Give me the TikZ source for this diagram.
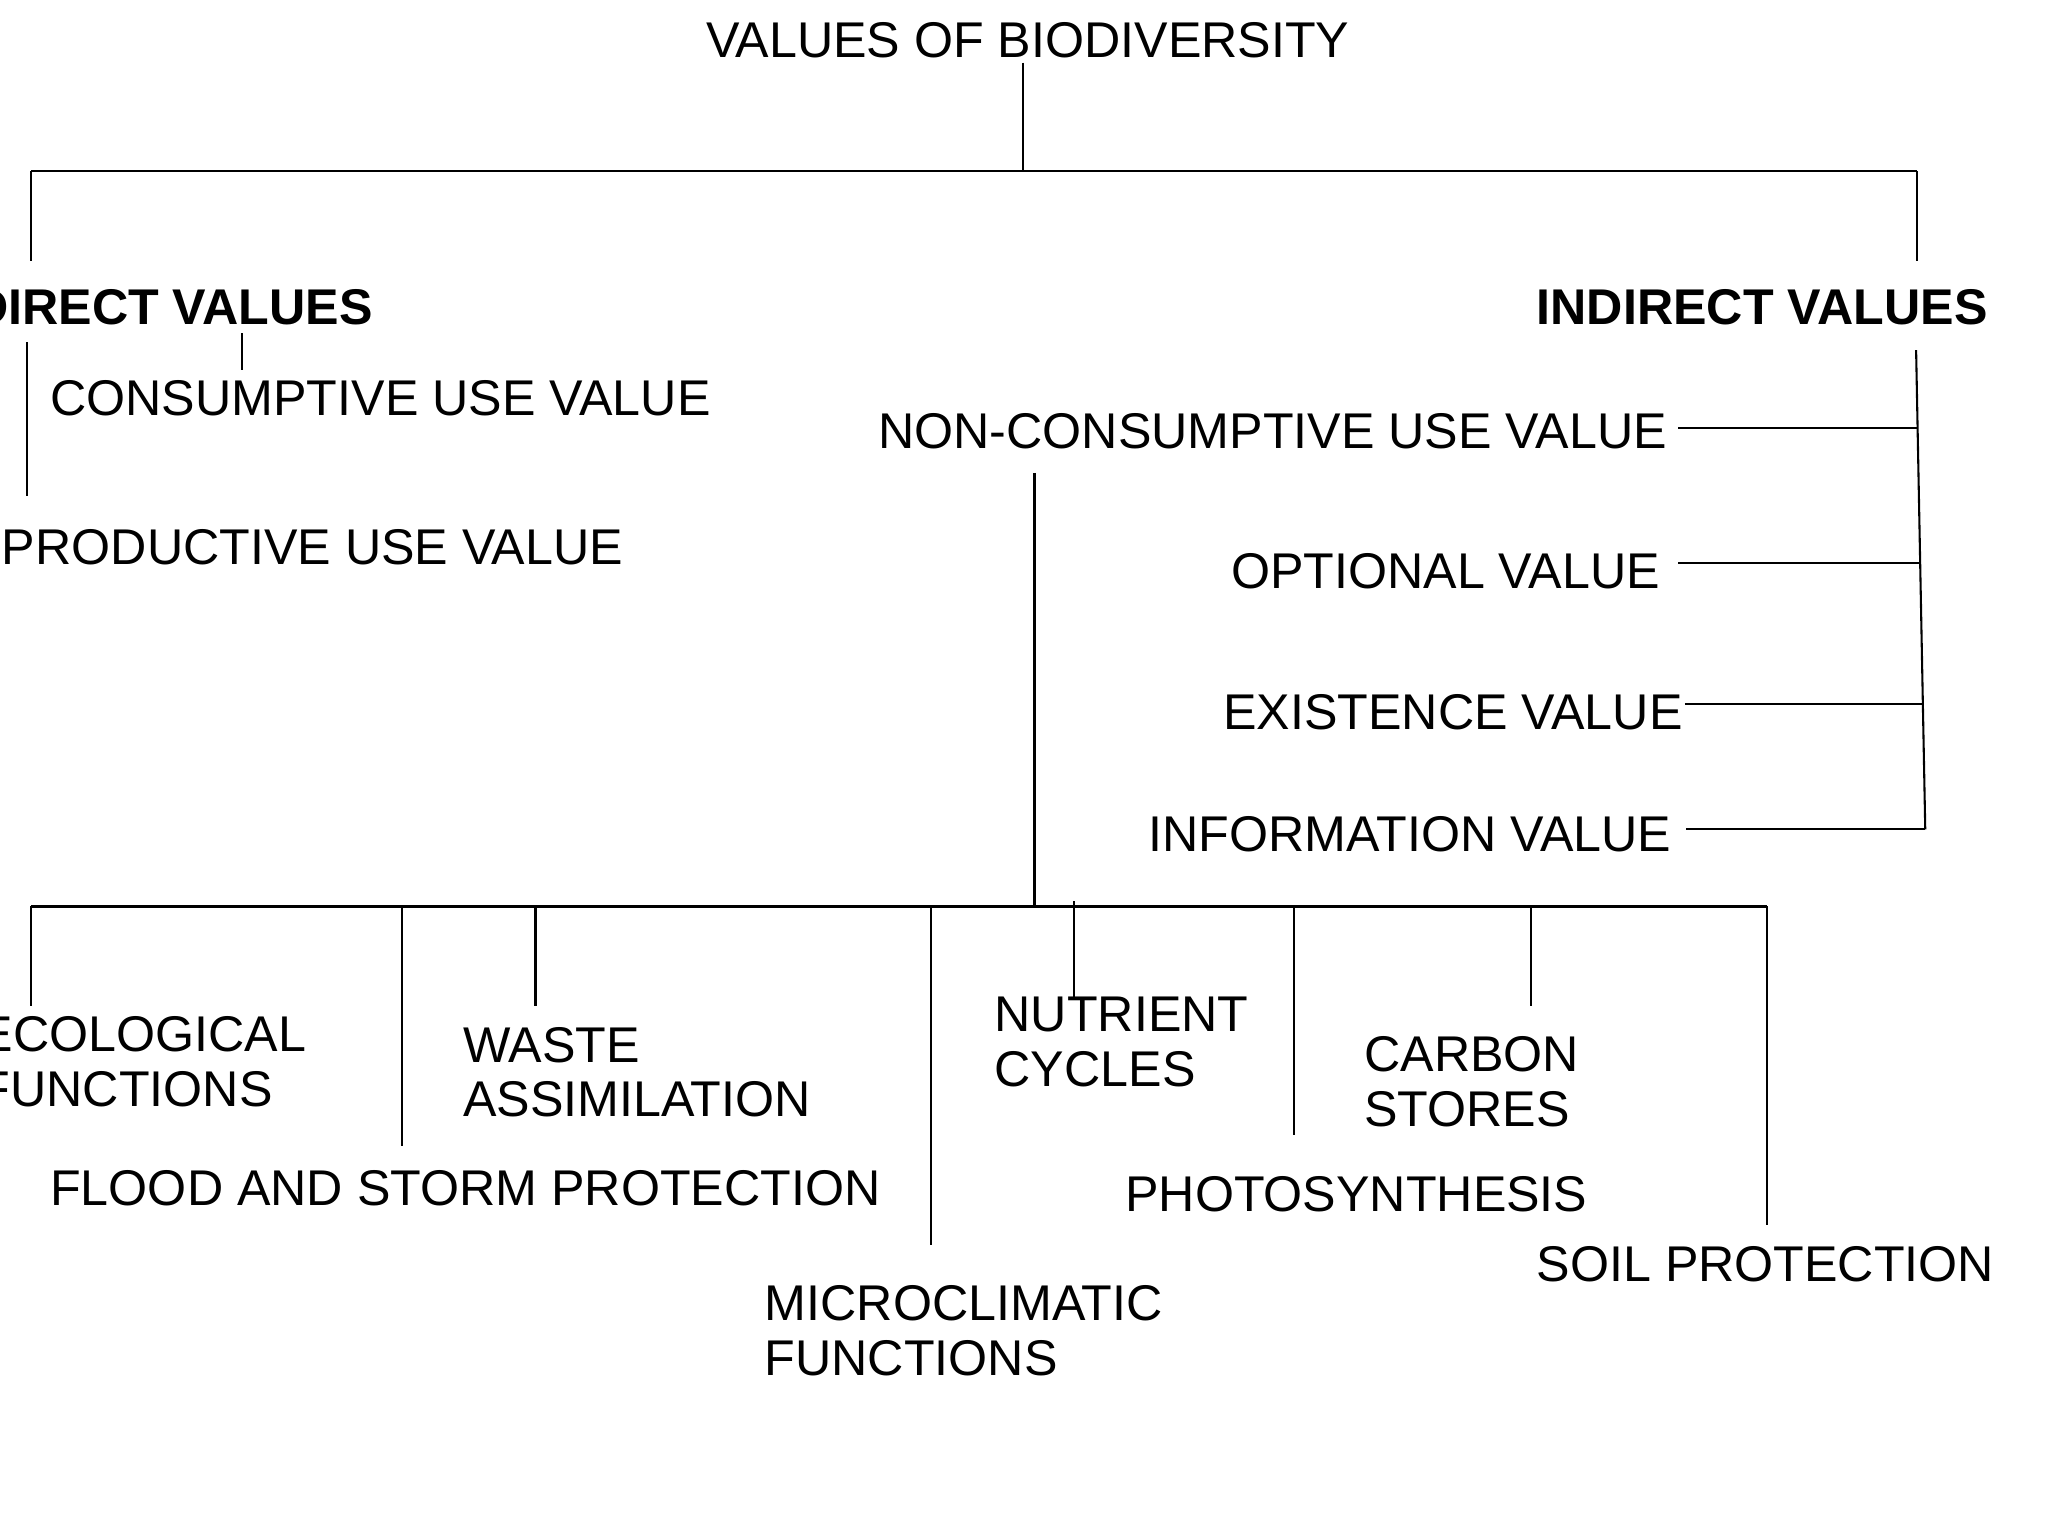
\documentclass[tikz,border=0pt]{standalone}
\usepackage{fontspec}
\setmainfont{Liberation Sans}
\usetikzlibrary{positioning}

\begin{document}
\begin{tikzpicture}[x=0.013256cm,y=-0.013256cm,
  lbl/.style={inner sep=0pt,anchor=west,align=left,font=\fontsize{14.5}{15.8}\selectfont},
  hd/.style={lbl,font=\fontsize{14.5}{15.8}\selectfont\bfseries},
  br/.style={line width=0.6pt}]
\useasboundingbox (0,0) rectangle (1568,1176);

% labels
\node[lbl] (bio)   at (540,31)  {VALUES OF BIODIVERSITY};
\node[hd,anchor=east] (dir) at (286,235) {DIRECT VALUES};
\node[hd]  (indir) at (1176,235) {INDIRECT VALUES};
\node[lbl] (cons)  at (38,305)  {CONSUMPTIVE USE VALUE};
\node[lbl] (prod)  at (1,419)   {PRODUCTIVE USE VALUE};
\node[lbl] (noncons) at (672,330) {NON-CONSUMPTIVE USE VALUE};
\node[lbl] (opt)   at (942,437) {OPTIONAL VALUE};
\node[lbl] (exist) at (936,545) {EXISTENCE VALUE};
\node[lbl] (info)  at (879,639) {INFORMATION VALUE};
\node[lbl] (eco)   at (-16,813) {ECOLOGICAL\\FUNCTIONS};
\node[lbl] (waste) at (354,821) {WASTE\\ASSIMILATION};
\node[lbl] (flood) at (38,910)  {FLOOD AND STORM PROTECTION};
\node[lbl] (nutr)  at (761,798) {NUTRIENT\\CYCLES};
\node[lbl] (carb)  at (1044,828) {CARBON\\STORES};
\node[lbl] (photo) at (861,914) {PHOTOSYNTHESIS};
\node[lbl] (soil)  at (1176,968) {SOIL PROTECTION};
\node[lbl] (micro) at (585,1019) {MICROCLIMATIC\\FUNCTIONS};

% top branch
\coordinate (t0) at (783,131);
\coordinate (tl) at (24,131);
\coordinate (tr) at (1468,131);
\draw[br] (t0 |- 0,48) -- (t0);
\draw[br] (tl) -- (tr);
\draw[br] (tl) -- ++(0,69);
\draw[br] (tr) -- ++(0,69);

% direct values
\draw[br] (185,255) -- (185,283);
\draw[br] (21,262) -- (21,380);

% indirect values
\coordinate (r0) at (1467,268);
\coordinate (r4) at (1474,635);
\draw[br] (r0) -- (r4);
\foreach \xa/\xb/\y in {1285/1467.5/328, 1285/1469/431, 1290/1473/539, 1291/1474/635}
  \draw[br] (\xa,\y) -- (\xb,\y);

% non-consumptive use value
\coordinate (b0) at (792,694);
\draw[br] (b0 |- 0,362) -- (b0);
\draw[br] (24,694) -- (1353,694);
\foreach \x/\y in {24/770, 308/877, 410/770, 713/953, 991/869, 1172/770, 1353/938}
  \draw[br] (\x,694) -- (\x,\y);
\draw[br] (822,690) -- (822,765);
\end{tikzpicture}
\end{document}
